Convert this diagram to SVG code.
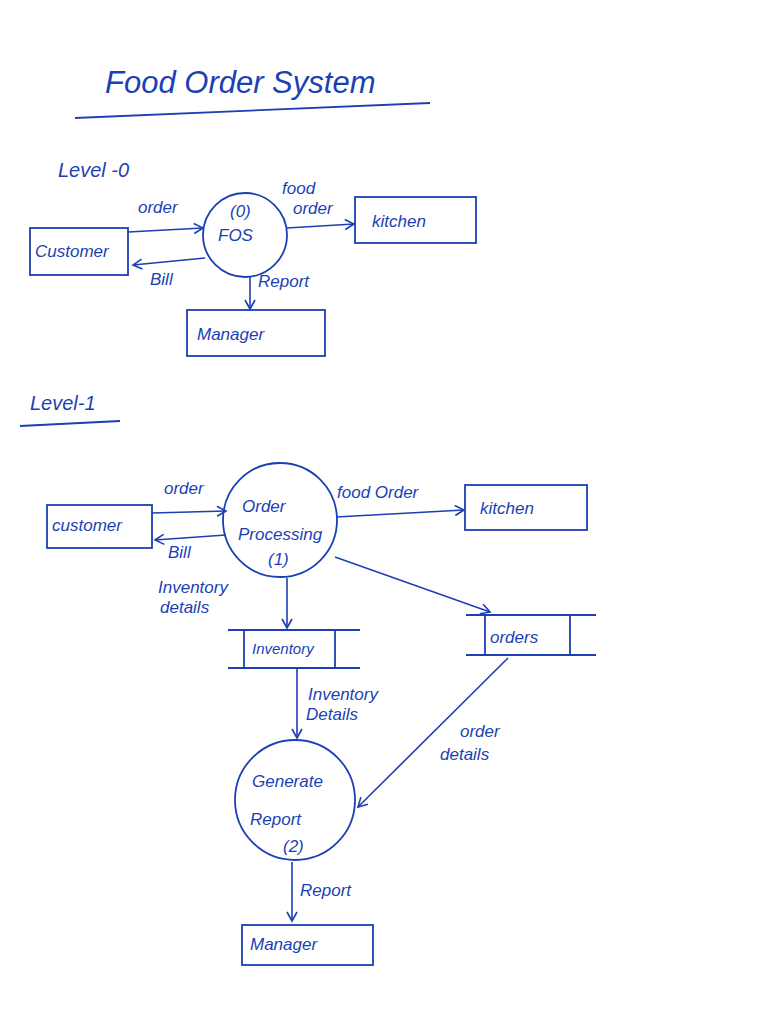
<svg xmlns="http://www.w3.org/2000/svg" width="768" height="1024" viewBox="0 0 768 1024">
<defs>
<marker id="ah" markerWidth="12" markerHeight="12" refX="10" refY="6" orient="auto" markerUnits="userSpaceOnUse">
<path d="M1,1 L10,6 L1,11" fill="none" stroke="#1c3fb4" stroke-width="1.6"/>
</marker>
</defs>
<style>
.s{fill:none;stroke:#1c3fb4;stroke-width:1.8}
.t{font-family:"Liberation Sans",sans-serif;font-style:italic;fill:#1c3fb4;font-size:17px}
.c{stroke:#1c3fb4;stroke-width:1.6;fill:none;marker-end:url(#ah)}
</style>
<rect width="768" height="1024" fill="#fff"/>
<text class="t" x="105" y="93" style="font-size:31px">Food Order System</text>
<path class="s" d="M75,118 L430,103"/>
<text class="t" x="58" y="177" style="font-size:20px">Level -0</text>
<text class="t" x="30" y="410" style="font-size:20px">Level-1</text>
<path class="s" d="M20,426 L120,421"/>

<g id="customer0"><rect class="s" x="30" y="228" width="98" height="47"/><text class="t" x="35" y="257">Customer</text></g>
<g id="fos"><circle class="s" cx="245" cy="235" r="42"/><text class="t" x="230" y="217">(0)</text><text class="t" x="218" y="241">FOS</text></g>
<g id="kitchen0"><rect class="s" x="355" y="197" width="121" height="46"/><text class="t" x="372" y="227">kitchen</text></g>
<g id="manager0"><rect class="s" x="187" y="310" width="138" height="46"/><text class="t" x="197" y="340">Manager</text></g>

<g id="customer1"><rect class="s" x="47" y="505" width="105" height="43"/><text class="t" x="52" y="531">customer</text></g>
<g id="orderproc"><circle class="s" cx="280" cy="520" r="57"/><text class="t" x="242" y="512">Order</text><text class="t" x="238" y="540">Processing</text><text class="t" x="268" y="565">(1)</text></g>
<g id="kitchen1"><rect class="s" x="465" y="485" width="122" height="45"/><text class="t" x="480" y="514">kitchen</text></g>
<g id="inventory"><path class="s" d="M228,630 L360,630 M228,668 L360,668 M244,630 L244,668 M335,630 L335,668"/><text class="t" x="252" y="654" style="font-size:15px">Inventory</text></g>
<g id="orders"><path class="s" d="M466,615 L596,615 M466,655 L596,655 M485,615 L485,655 M570,615 L570,655"/><text class="t" x="490" y="643">orders</text></g>
<g id="genreport"><circle class="s" cx="295" cy="800" r="60"/><text class="t" x="252" y="787">Generate</text><text class="t" x="250" y="825">Report</text><text class="t" x="283" y="852">(2)</text></g>
<g id="manager1"><rect class="s" x="242" y="925" width="131" height="40"/><text class="t" x="250" y="950">Manager</text></g>

<g id="connectors">
<path class="c" d="M128,232 L203,228"/>
<path class="c" d="M205,258 L133,265"/>
<path class="c" d="M287,228 L354,224"/>
<path class="c" d="M250,277 L250,309"/>
<path class="c" d="M152,513 L226,511"/>
<path class="c" d="M226,535 L155,540"/>
<path class="c" d="M336,517 L464,510"/>
<path class="c" d="M335,557 L490,612"/>
<path class="c" d="M287,578 L287,628"/>
<path class="c" d="M297,669 L297,738"/>
<path class="c" d="M508,658 L358,807"/>
<path class="c" d="M292,862 L292,921"/>
</g>
<g id="labels">
<text class="t" x="138" y="213">order</text>
<text class="t" x="150" y="285">Bill</text>
<text class="t" x="282" y="194">food</text>
<text class="t" x="293" y="214">order</text>
<text class="t" x="258" y="287">Report</text>
<text class="t" x="164" y="494">order</text>
<text class="t" x="168" y="558">Bill</text>
<text class="t" x="337" y="498">food Order</text>
<text class="t" x="158" y="593">Inventory</text>
<text class="t" x="160" y="613">details</text>
<text class="t" x="308" y="700">Inventory</text>
<text class="t" x="306" y="720">Details</text>
<text class="t" x="460" y="737">order</text>
<text class="t" x="440" y="760">details</text>
<text class="t" x="300" y="896">Report</text>
</g>
</svg>
